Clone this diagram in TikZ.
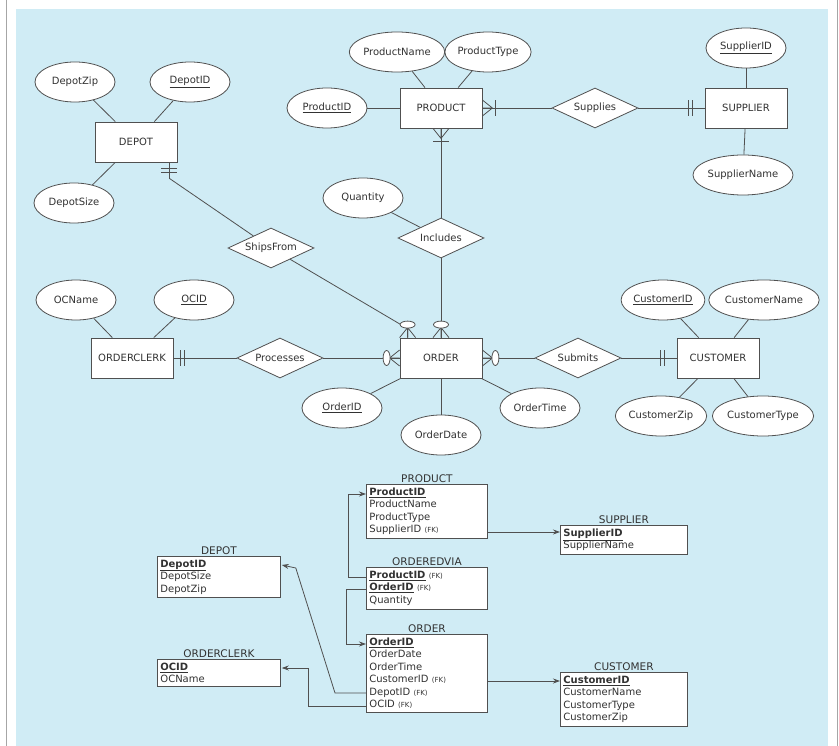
\documentclass[tikz,border=0pt]{standalone}
\usepackage{fontspec}
\setmainfont{DejaVu Sans}
\usetikzlibrary{shapes.geometric,arrows.meta,calc}
\definecolor{bg}{RGB}{208,236,245}
\definecolor{lc}{RGB}{80,80,80}
\definecolor{tc}{RGB}{50,50,50}
\newcommand\ERcrow[3]{\begin{scope}[shift={(#1)},x={(#2)},y={(#3)}]\draw[ln] (0,-8)--(10,0)--(0,8) (0,0)--(10,0);\end{scope}}
\newcommand\ERbar[4]{\begin{scope}[shift={(#1)},x={(#2)},y={(#3)}]\draw[ln] (#4,-8)--(#4,8);\end{scope}}
\newcommand\ERzero[4]{\begin{scope}[shift={(#1)},x={(#2)},y={(#3)}]\draw[ln,fill=white] (#4,0) ellipse [x radius=3.5,y radius=7.5];\end{scope}}
\newcommand\fk{{\fontsize{7}{12.5}\selectfont(FK)}}
\newcommand\pk[1]{\underline{\textbf{#1}}}
\begin{document}
\begin{tikzpicture}[x=1pt,y=-1pt,
 ln/.style={draw=lc,line width=0.8pt},
 ent/.style={draw=lc,line width=0.8pt,fill=white,minimum width=82,minimum height=40,text=tc,font=\fontsize{10}{12}\selectfont},
 attr/.style={ellipse,draw=lc,line width=0.8pt,fill=white,minimum width=80,minimum height=40,inner xsep=0,text=tc,font=\fontsize{10}{12}\selectfont},
 rel/.style={diamond,draw=lc,line width=0.8pt,fill=white,aspect=2.1,minimum width=86,minimum height=40,inner sep=0,text=tc,font=\fontsize{10}{12}\selectfont},
 tbl/.style={draw=lc,line width=0.8pt,fill=white,anchor=north west,inner xsep=3,inner ysep=3.5,align=left,text=tc,font=\fontsize{10}{12.5}\selectfont},
 ttl/.style={text=tc,font=\fontsize{10.5}{12}\selectfont,anchor=south,inner sep=1},
 arr/.style={draw=lc,line width=0.8pt,-{Stealth[length=7pt,width=5pt]}}]
\useasboundingbox (0,0) rectangle (839,746);
\fill[white] (0,0) rectangle (839,746);
\fill[bg] (16,9) rectangle (828,746);
\draw[gray!70,line width=1pt] (6,0)--(6,746) (837,0)--(837,746);
% ER entities
\node[ent] (product) at (441,108) {PRODUCT};
\node[ent] (supplier) at (746,108) {SUPPLIER};
\node[ent] (depot) at (136,142) {DEPOT};
\node[ent] (order) at (441,358) {ORDER};
\node[ent] (clerk) at (132,358) {ORDERCLERK};
\node[ent] (customer) at (718,358) {CUSTOMER};
% attributes
\node[attr] (pname) at (397,52) {ProductName};
\node[attr] (ptype) at (488,52) {ProductType};
\node[attr] (pid) at (327,108) {\underline{ProductID}};
\node[attr] (sid) at (746,48) {\underline{SupplierID}};
\node[attr] (sname) at (743,175) {SupplierName};
\node[attr] (dzip) at (75,82) {DepotZip};
\node[attr] (did) at (190,82) {\underline{DepotID}};
\node[attr] (dsize) at (74,203) {DepotSize};
\node[attr] (qty) at (363,198) {Quantity};
\node[attr] (ocname) at (76,300) {OCName};
\node[attr] (ocid) at (194,300) {\underline{OCID}};
\node[attr] (cid) at (663,300) {\underline{CustomerID}};
\node[attr] (cname) at (764,300) {CustomerName};
\node[attr] (czip) at (661,416) {CustomerZip};
\node[attr] (ctype) at (763,416) {CustomerType};
\node[attr] (oid) at (342,408) {\underline{OrderID}};
\node[attr] (odate) at (441,435) {OrderDate};
\node[attr] (otime) at (540,408) {OrderTime};
% relationships
\node[rel] (supplies) at (595,108) {Supplies};
\node[rel] (includes) at (441,238) {Includes};
\node[rel] (ships) at (271,248) {ShipsFrom};
\node[rel] (processes) at (280,358) {Processes};
\node[rel] (submits) at (578,358) {Submits};
% attribute lines
\foreach \a/\e in {pname/product,ptype/product,pid/product,sid/supplier,sname/supplier,dzip/depot,did/depot,dsize/depot,ocname/clerk,ocid/clerk,cid/customer,cname/customer,czip/customer,ctype/customer,oid/order,odate/order,otime/order}
 \draw[ln] (\a) -- (\e);
\draw[ln] (qty) -- (includes);
% relationship lines
\coordinate (dpt) at ($(depot.south east)+(-8,0)$);
\coordinate (dk) at ($(dpt)+(0,16)$);
\coordinate (os) at ($(order.north west)+(8,0)$);
\coordinate (ok) at ($(os)+(0,-9)$);
\draw[ln] (product.east) -- (supplies) -- (supplier.west);
\draw[ln] (product.south) -- (includes) -- (order.north);
\draw[ln] (dpt) -- (dk) -- (ships);
\draw[ln] (ships) -- (ok) -- (os);
\draw[ln] (clerk.east) -- (processes) -- (order.west);
\draw[ln] (order.east) -- (submits) -- (customer.west);
% cardinality marks
\ERcrow{product.east}{1pt,0pt}{0pt,1pt}\ERbar{product.east}{1pt,0pt}{0pt,1pt}{13}
\ERbar{supplier.west}{-1pt,0pt}{0pt,1pt}{12}\ERbar{supplier.west}{-1pt,0pt}{0pt,1pt}{16}
\ERcrow{product.south}{0pt,-1pt}{1pt,0pt}\ERbar{product.south}{0pt,-1pt}{1pt,0pt}{13}
\ERbar{dpt}{0pt,-1pt}{1pt,0pt}{6}\ERbar{dpt}{0pt,-1pt}{1pt,0pt}{10}
\ERcrow{os}{0pt,1pt}{1pt,0pt}\ERzero{os}{0pt,1pt}{1pt,0pt}{13}
\ERcrow{order.north}{0pt,1pt}{1pt,0pt}\ERzero{order.north}{0pt,1pt}{1pt,0pt}{13}
\ERcrow{order.west}{-1pt,0pt}{0pt,1pt}\ERzero{order.west}{-1pt,0pt}{0pt,1pt}{13}
\ERcrow{order.east}{1pt,0pt}{0pt,1pt}\ERzero{order.east}{1pt,0pt}{0pt,1pt}{13}
\ERbar{clerk.east}{1pt,0pt}{0pt,1pt}{7}\ERbar{clerk.east}{1pt,0pt}{0pt,1pt}{11}
\ERbar{customer.west}{-1pt,0pt}{0pt,1pt}{12}\ERbar{customer.west}{-1pt,0pt}{0pt,1pt}{16}
% relational schema
\node[tbl,text width=115] (tprod) at (366,484) {\pk{ProductID}\\ProductName\\ProductType\\SupplierID \fk};
\node[ttl] at (tprod.north) {PRODUCT};
\node[tbl,text width=121] (tsup) at (560,525) {\pk{SupplierID}\\SupplierName};
\node[ttl] at (tsup.north) {SUPPLIER};
\node[tbl,text width=115] (tov) at (366,567) {\pk{ProductID} \fk\\\pk{OrderID} \fk\\Quantity};
\node[ttl] at (tov.north) {ORDEREDVIA};
\node[tbl,text width=117] (tdep) at (157,556) {\pk{DepotID}\\DepotSize\\DepotZip};
\node[ttl] at (tdep.north) {DEPOT};
\node[tbl,text width=115] (tord) at (366,634) {\pk{OrderID}\\OrderDate\\OrderTime\\CustomerID \fk\\DepotID \fk\\OCID \fk};
\node[ttl] at (tord.north) {ORDER};
\node[tbl,text width=117] (tock) at (157,659) {\pk{OCID}\\OCName};
\node[ttl] at (tock.north) {ORDERCLERK};
\node[tbl,text width=121] (tcus) at (560,672) {\pk{CustomerID}\\CustomerName\\CustomerType\\CustomerZip};
\node[ttl] at (tcus.north) {CUSTOMER};
% FK arrows
\coordinate (pr1) at ($(tprod.north west)+(0,10)$);
\coordinate (pr4) at ($(tprod.north east)+(0,48)$);
\coordinate (ov1) at ($(tov.north west)+(0,10)$);
\coordinate (ov2) at ($(tov.north west)+(0,22)$);
\coordinate (or1) at ($(tord.north west)+(0,10)$);
\coordinate (or4) at ($(tord.north east)+(0,47)$);
\coordinate (or5) at ($(tord.north west)+(0,59)$);
\coordinate (or6) at ($(tord.north west)+(0,72)$);
\coordinate (dp1) at ($(tdep.north east)+(1,9)$);
\coordinate (oc1) at ($(tock.north east)+(1,9)$);
\coordinate (dpk) at ($(dp1)+(14,3)$);
\draw[arr] (ov1) -- ++(-18,0) |- (pr1);
\draw[arr] (ov2) -- ++(-20,0) |- (or1);
\draw[arr] (pr4) -- (pr4 -| tsup.west);
\draw[arr] (or4) -- (or4 -| tcus.west);
\draw[arr] (or5) -- ++(-31,0) -- (dpk) -- (dp1);
\draw[arr] (or6) -- ++(-58,0) |- (oc1);
\end{tikzpicture}
\end{document}
